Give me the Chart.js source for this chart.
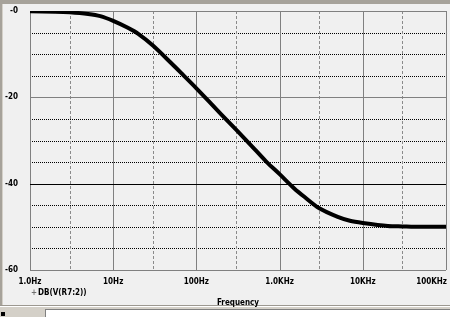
<!DOCTYPE html>
<html>
<head>
<meta charset="utf-8">
<script src="https://cdn.jsdelivr.net/npm/chart.js@4/dist/chart.umd.min.js"></script>
<style>
  html, body { margin: 0; padding: 0; background: #f0f0f0; }
  #wrap { width: 450px; height: 317px; }
</style>
</head>
<body>
<div id="wrap"><canvas id="bode" width="450" height="317"></canvas></div>
<script>
// values (frequency in Hz, magnitude in dB)
var freqs = [1, 2, 3, 5, 7, 10, 15, 20, 30, 50, 70, 100, 200, 300, 500, 700,
             1000, 1500, 2000, 3000, 5000, 7000, 10000, 20000, 30000, 50000, 100000];
var dbValues = [-0.05, -0.15, -0.3, -0.7, -1.2, -2.3, -3.9, -5.3, -8.0, -12.1, -14.9, -17.9,
                -24.0, -27.5, -32.0, -35.0, -37.8, -41.1, -43.1, -45.7, -47.7, -48.6,
                -49.1, -49.8, -49.9, -50.0, -50.0];
var xTickValues = [1, 10, 100, 1000, 10000, 100000];
var xTickLabels = ['1.0Hz', '10Hz', '100Hz', '1.0KHz', '10KHz', '100KHz'];
var xMinorValues = [3, 30, 300, 3000, 30000];
var yMajorValues = [0, -20, -40, -60];
var yMinorValues = [-5, -10, -15, -25, -30, -35, -45, -50, -55];
var seriesName = 'DB(V(R7:2))';
var axisTitle = 'Frequency';

var font = 'bold 8px "Liberation Sans Narrow", "DejaVu Sans Condensed", sans-serif';

var points = freqs.map(function (f, i) { return { x: f, y: dbValues[i] }; });

var frame = {
    id: 'frame',
    beforeDraw: function (chart) {
        var c = chart.ctx;
        c.save();
        c.fillStyle = '#f0f0f0';
        c.fillRect(0, 0, 450, 317);
        c.fillStyle = '#a6a29a';
        c.fillRect(0, 0, 450, 4);
        c.fillRect(0, 0, 2, 317);
        c.fillStyle = '#d4d0c8';
        c.fillRect(2, 4, 1, 301);
        // bottom bar
        c.fillStyle = '#9c9890';
        c.fillRect(0, 305, 450, 1);
        c.fillStyle = '#ffffff';
        c.fillRect(0, 306, 450, 1);
        c.fillStyle = '#d4d0c8';
        c.fillRect(0, 307, 450, 10);
        c.fillStyle = '#808080';
        c.fillRect(45, 309, 405, 1);
        c.fillRect(45, 309, 1, 8);
        c.fillStyle = '#ffffff';
        c.fillRect(46, 310, 404, 7);
        c.fillStyle = '#000000';
        c.fillRect(1, 312, 4, 4);
        c.restore();
    },
    beforeDatasetsDraw: function (chart) {
        var c = chart.ctx, a = chart.chartArea;
        var xs = chart.scales.x, ys = chart.scales.y;
        c.save();
        c.lineWidth = 1;
        // horizontal dotted lines
        c.strokeStyle = '#000000';
        c.setLineDash([1, 1]);
        yMinorValues.forEach(function (v) {
            var y = Math.round(ys.getPixelForValue(v)) + 0.5;
            c.beginPath(); c.moveTo(a.left, y); c.lineTo(a.right, y); c.stroke();
        });
        // vertical dashed lines
        c.strokeStyle = '#8a8a8a';
        c.setLineDash([3, 2]);
        xMinorValues.forEach(function (v) {
            var x = Math.round(xs.getPixelForValue(v)) + 0.5;
            c.beginPath(); c.moveTo(x, a.top); c.lineTo(x, a.bottom); c.stroke();
        });
        c.setLineDash([]);
        // decade lines
        c.strokeStyle = '#808080';
        xTickValues.forEach(function (v) {
            var x = Math.round(xs.getPixelForValue(v)) + 0.5;
            c.beginPath(); c.moveTo(x, a.top); c.lineTo(x, a.bottom); c.stroke();
        });
        yMajorValues.forEach(function (v) {
            var y = Math.round(ys.getPixelForValue(v)) + 0.5;
            c.strokeStyle = v === -40 ? '#000000' : '#808080';
            c.beginPath(); c.moveTo(a.left, y); c.lineTo(a.right, y); c.stroke();
        });
        c.restore();
    },
    afterDraw: function (chart) {
        var c = chart.ctx, a = chart.chartArea, xs = chart.scales.x;
        c.save();
        c.font = font;
        c.fillStyle = '#000000';
        c.textBaseline = 'middle';
        xTickValues.forEach(function (v, i) {
            var x = xs.getPixelForValue(v);
            var w = c.measureText(xTickLabels[i]).width;
            var left = Math.min(x - w / 2, 447 - w);
            c.textAlign = 'left';
            c.fillText(xTickLabels[i], left, a.bottom + 12);
        });
        // legend
        c.fillStyle = '#707070';
        c.fillText('+', a.left + 1, a.bottom + 23);
        c.fillStyle = '#000000';
        c.fillText(seriesName, a.left + 8, a.bottom + 23);
        // axis title
        c.textAlign = 'center';
        c.fillText(axisTitle, 238, a.bottom + 33);
        c.restore();
    }
};

new Chart(document.getElementById('bode'), {
    type: 'scatter',
    data: {
        datasets: [{
            label: seriesName,
            data: points,
            showLine: true,
            borderColor: '#000000',
            borderWidth: 4,
            borderJoinStyle: 'round',
            pointRadius: 0,
            tension: 0.3
        }]
    },
    options: {
        responsive: false,
        animation: false,
        layout: { padding: { top: 11, right: 4, left: 0, bottom: 0 } },
        plugins: { legend: { display: false }, tooltip: { enabled: false } },
        scales: {
            x: {
                type: 'logarithmic',
                min: 1,
                max: 100000,
                grid: { display: false },
                border: { display: false },
                ticks: { display: false },
                afterFit: function (s) { s.height = 47; }
            },
            y: {
                min: -60,
                max: 0,
                grid: { display: false },
                border: { display: false },
                ticks: {
                    stepSize: 20,
                    padding: 4,
                    color: '#000000',
                    font: { family: '"Liberation Sans Narrow", "DejaVu Sans Condensed", sans-serif', size: 8, weight: 'bold' },
                    callback: function (v) { return v === 0 ? '-0' : String(v); }
                },
                afterFit: function (s) { s.width = 30; }
            }
        }
    },
    plugins: [frame]
});
</script>
</body>
</html>
